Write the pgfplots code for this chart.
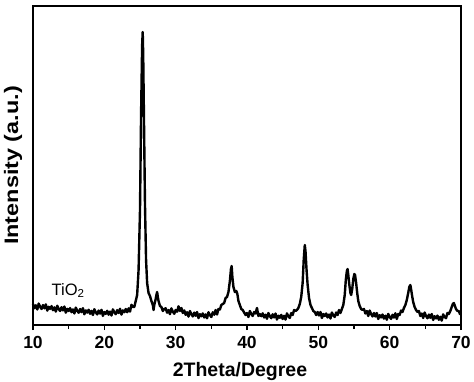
\documentclass[border=0pt]{standalone}
\usepackage{pgfplots}
\pgfplotsset{compat=1.18}
\usepackage{graphicx}
\usepackage{fontspec}
\setmainfont{Liberation Sans}
\pgfplotstableread{
x y
10.0 21
10.2 16.8
10.4 19.7
10.6 15.5
10.8 21.4
11.0 18.2
11.2 16
11.4 19.9
11.6 16.7
11.8 20.6
12.0 14.4
12.2 18.2
12.4 16.1
12.6 18.9
12.8 14.8
13.0 17.6
13.2 13.4
13.4 19.3
13.6 16.1
13.8 14
14.0 17.8
14.2 14.6
14.4 18.5
14.6 12.3
14.8 16.2
15.0 14
15.2 16.9
15.4 12.8
15.6 15.6
15.8 11.5
16.0 17.4
16.2 14.3
16.4 12.2
16.6 16
16.8 12.9
17.0 16.8
17.2 10.7
17.4 14.6
17.6 12.4
17.8 15.3
18.0 11.2
18.2 14.1
18.4 10
18.6 15.8
18.8 12.7
19.0 10.6
19.2 14.5
19.4 11.4
19.6 15.2
19.8 9.1
20.0 13
20.2 11.1
20.4 14.2
20.6 10.3
20.8 13.4
21.0 9.5
21.2 15.6
21.4 12.7
21.6 10.8
21.8 14.9
22.0 12
22.2 16.2
22.4 10.4
22.6 14.6
22.8 12.8
23.0 16
23.2 12.8
23.4 16.6
23.6 13.4
23.8 20.2
24.0 18
24.2 18
24.4 24
24.6 30
24.8 55
25.0 115
25.15 210
25.3 280
25.38 293
25.45 270
25.55 210
25.7 120
25.85 65
26.0 42
26.2 32
26.4 29
26.6 24
26.8 20
26.9 15
27.0 20
27.2 26
27.3 30
27.4 33
27.5 28
27.6 24
27.8 19
28.0 18
28.2 14
28.4 16
28.6 16.7
28.8 12.3
29.0 15
29.2 10.8
29.4 16.6
29.6 13.4
29.8 11.2
30.0 15
30.2 13.3
30.4 18.7
30.6 14
30.8 17
31.0 12
31.2 14.6
31.4 10.2
31.6 12.8
31.8 8.4
32.0 14
32.2 10.8
32.4 8.6
32.6 12.4
32.8 9.2
33.0 13
33.2 6.9
33.4 10.8
33.6 8.7
33.8 11.6
34.0 7.5
34.2 10.6
34.4 6.7
34.6 12.8
34.8 9.9
35.0 8
35.2 12.7
35.4 10.3
35.6 15
35.8 10.5
36.0 16
36.2 15.5
36.4 20
36.6 21
36.8 22
37.0 27
37.2 28
37.4 33
37.6 44
37.75 56
37.85 59
37.95 48
38.1 38
38.3 33
38.5 34
38.65 31
38.8 24
39.0 20
39.2 16
39.4 15
39.6 12.5
39.8 10
40.0 12
40.2 8
40.4 14
40.6 11
40.8 9
41.0 13
41.2 11.5
41.4 17
41.6 9
41.8 11
42.0 8.8
42.2 11.7
42.4 7.5
42.6 10.3
42.8 6.2
43.0 12
43.2 8.9
43.4 6.8
43.6 10.7
43.8 7.6
44.0 11.5
44.2 5.4
44.4 9.3
44.6 7.2
44.8 10.1
45.0 6
45.2 9.2
45.4 5.4
45.6 11.6
45.8 8.8
46.0 7
46.2 12
46.4 10
46.6 15
46.8 14
47.0 15
47.2 17
47.4 21
47.6 28
47.8 42
47.95 65
48.1 80
48.2 74
48.35 55
48.5 40
48.7 27
48.9 20
49.1 17
49.3 14
49.5 13
49.7 10
49.9 13
50.1 9.5
50.3 13
50.5 7
50.7 11
50.9 9
51.1 11.5
51.3 7.5
51.5 10.5
51.7 6.5
51.9 12.5
52.1 9.5
52.3 8
52.5 12.5
52.7 10
52.9 15
53.1 12
53.3 16
53.5 20
53.7 30
53.85 45
54.0 54
54.1 56
54.2 50
54.35 40
54.5 32
54.6 30
54.75 36
54.9 46
55.05 51
55.15 50
55.3 42
55.45 32
55.6 24
55.8 19
56.0 16
56.2 15
56.4 16
56.6 11.5
56.8 14
57.0 9
57.2 14.5
57.4 11
57.6 8.5
57.8 12
58.0 8.5
58.2 12
58.4 6
58.6 9.8
58.8 7.6
59.0 10.5
59.2 6.4
59.4 9.3
59.6 5.2
59.8 11.1
60.0 8
60.2 6.1
60.4 10.2
60.6 7.4
60.8 11.7
61.0 6
61.2 11
61.4 10
61.6 14.5
61.8 13
62.0 17
62.2 20
62.4 25
62.6 32
62.75 38
62.9 40
63.0 36
63.15 29
63.3 23
63.5 18
63.7 15
63.9 13
64.1 14
64.3 9
64.5 11.5
64.7 7
64.9 12.5
65.1 9
65.3 6.7
65.5 10.4
65.7 7.2
65.9 11
66.1 5
66.3 8.8
66.5 6.6
66.7 9.4
66.9 5.2
67.1 8.2
67.3 4.4
67.5 10.6
67.7 8
67.9 6.8
68.1 12
68.3 11
68.5 14
68.7 18
68.85 21
69.0 22
69.15 19
69.3 16
69.5 14
69.7 14
69.85 11
70.0 12
}\xrd
\begin{document}
\begin{tikzpicture}
\begin{axis}[
  scale only axis,
  width=428bp, height=319bp,
  xmin=10, xmax=70, ymin=0, ymax=319,
  xtick={10,20,30,40,50,60,70},
  minor x tick num=1,
  ytick=\empty,
  tick align=outside,
  xtick pos=bottom,
  major tick length=5bp,
  minor tick length=4bp,
  axis line style={line width=1.5bp},
  every tick/.style={line width=1.2bp, black},
  /pgf/number format/assume math mode=true,
  ticklabel style={font=\fontsize{17.5bp}{19bp}\selectfont\bfseries},
  xticklabel style={yshift=-3bp},
  xlabel={2Theta/Degree},
  xlabel style={font=\fontsize{19.5bp}{21bp}\selectfont\bfseries, xshift=-7bp, yshift=-7bp},
  ylabel={\scalebox{1.2}[1]{Intensity (a.u.)}},
  ylabel style={font=\fontsize{19.5bp}{21bp}\selectfont\bfseries, at={(axis description cs:-0.035,0.5)}, anchor=base, inner sep=0pt},
  clip=false,
]
\addplot[black, line width=2.4bp, line join=round] table[x=x,y=y] {\xrd};
\node[anchor=base west, inner sep=0pt, font=\fontsize{16.5bp}{18bp}\selectfont] at (axis cs:12.6,30) {TiO\textsubscript{2}};
\end{axis}
\pgfresetboundingbox
\useasboundingbox (-33bp,-57bp) rectangle (441bp,325bp);
\end{tikzpicture}
\end{document}
